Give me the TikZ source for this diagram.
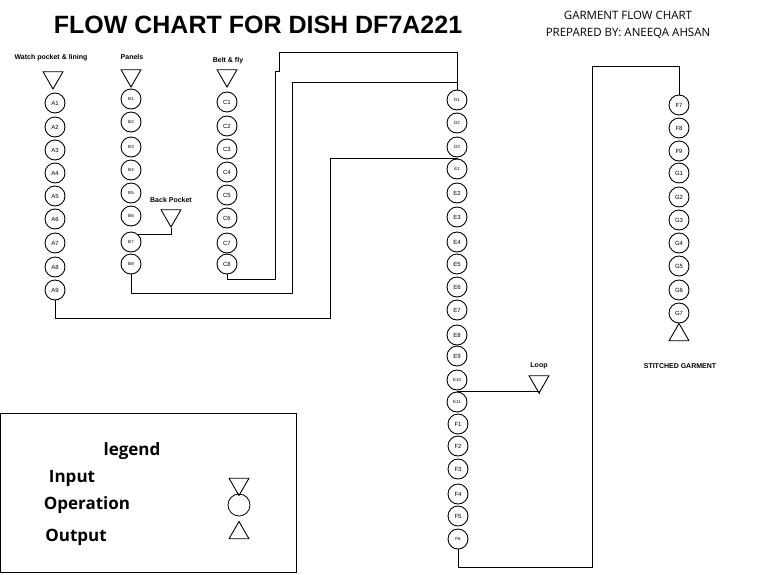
\documentclass[tikz,border=0pt]{standalone}
\usepackage{fontspec}
\setmainfont{Liberation Sans}
\newfontfamily\osans{Open Sans}
\usetikzlibrary{shapes.geometric,calc}
\begin{document}
\begin{tikzpicture}[x=1pt,y=-1pt,line width=0.9pt,
 op/.style={draw,circle,minimum size=20pt,inner sep=0pt,font=\fontsize{6}{6}\selectfont},
 inp/.style={draw,regular polygon,regular polygon sides=3,shape border rotate=180,minimum size=23pt,inner sep=0pt},
 outp/.style={draw,regular polygon,regular polygon sides=3,minimum size=23pt,inner sep=0pt},
 lbl/.style={font=\bfseries\fontsize{7}{7}\selectfont},
 wire/.style={line width=0.9pt}]
\useasboundingbox (0,0) rectangle (768,574);
\node[font=\bfseries\fontsize{25}{25}\selectfont] (title) at (258,25) {FLOW CHART FOR DISH DF7A221};
\node[font=\osans\fontsize{11.5}{12}\selectfont] (t1) at (628,15) {GARMENT FLOW CHART};
\node[font=\osans\fontsize{11.5}{12}\selectfont] (t2) at (628,33) {PREPARED BY: ANEEQA AHSAN};
\node[lbl] (la) at (51,58) {Watch pocket \& lining};
\node[lbl] (lb) at (132,57) {Panels};
\node[lbl] (lc) at (228,61) {Belt \& fly};
\node[lbl] (lbp) at (171,200) {Back Pocket};
\node[lbl] (ll) at (539,366) {Loop};
\node[lbl] (lsg) at (680,366) {STITCHED GARMENT};
\begin{scope}[shift={(0,3.5)}]
\node[inp] (ia) at (53,74) {};
\node[inp] (ib) at (131,72) {};
\node[inp] (ic) at (227,72) {};
\node[inp] (ibp) at (171,212) {};
\node[inp] (il) at (539,378) {};
\end{scope}
\node[outp] (og) at (679,335) {};
\foreach \n/\y in {1/103,2/127,3/150,4/173,5/196,6/219,7/243,8/267,9/290} \node[op] (A\n) at (55,\y) {A\n};
\foreach \n/\y in {1/99,2/122,3/147,4/170,5/193,6/216,7/242,8/264} \node[op,font=\fontsize{4.5}{5}\selectfont] (B\n) at (131,\y) {B\n};
\foreach \n/\y in {1/102,2/126,3/149,4/172,5/195,6/218,7/243,8/264} \node[op] (C\n) at (227,\y) {C\n};
\foreach \n/\y in {1/100,2/123,3/147} \node[op,font=\fontsize{4.5}{5}\selectfont] (D\n) at (457,\y) {D\n};
\foreach \n/\y in {2/193,3/217,4/242,5/264,6/287,7/310,8/335,9/356} \node[op] (E\n) at (457,\y) {E\n};
\node[op,font=\fontsize{4.5}{5}\selectfont] (E1) at (457,169) {E1};
\node[op,font=\fontsize{4.5}{5}\selectfont] (E10) at (457,380) {E10};
\node[op,font=\fontsize{4.5}{5}\selectfont] (E11) at (457,402) {E11};
\foreach \n/\y in {1/424,2/446,3/469,4/494,5/516} \node[op] (F\n) at (458,\y) {F\n};
\node[op,font=\fontsize{4.5}{5}\selectfont] (F6) at (458,539) {F6};
\foreach \n/\y in {7/105,8/128,9/151} \node[op] (F\n) at (679,\y) {F\n};
\foreach \n/\y in {1/173,2/197,3/220,4/243,5/266,6/290,7/313} \node[op] (G\n) at (679,\y) {G\n};
% connectors
\draw[wire] (B7.north east) -- (ibp.south |- B7.north east) -- (ibp.south);
\draw[wire] (C8.south) -- ++(0,5) -| (275,71) -- (279,71) -- (279,52) -| (D1.north);
\draw[wire] (B8.south) -- (B8.south |- 0,293) -| (292,82) -| (D1.north);
\draw[wire] (A9.south) -- (A9.south |- 0,318) -| (330,158) -| (E1.north);
\coordinate (j) at ($(E10.south)!0.5!(E11.north)$);
\draw[wire] (j) -| (il.south);
\draw[wire] (F6.south) -- (458,567) -| (592,66) -| (F7.north);
% legend
\draw[line width=0.8pt] (0,413) rectangle (296,572);
\node[font=\osans\bfseries\fontsize{17}{17}\selectfont] (lg) at (132,451) {legend};
\node[font=\osans\bfseries\fontsize{17}{17}\selectfont] (li) at (72,478) {Input};
\node[font=\osans\bfseries\fontsize{17}{17}\selectfont] (lo) at (87,505) {Operation};
\node[font=\osans\bfseries\fontsize{17}{17}\selectfont] (lu) at (76,537) {Output};
\node[inp] (s1) at (239,484) {};
\node[draw,circle,minimum size=22pt,line width=0.8pt] (s2) at (239,505) {};
\node[outp] (s3) at (239,533) {};
\end{tikzpicture}
\end{document}
